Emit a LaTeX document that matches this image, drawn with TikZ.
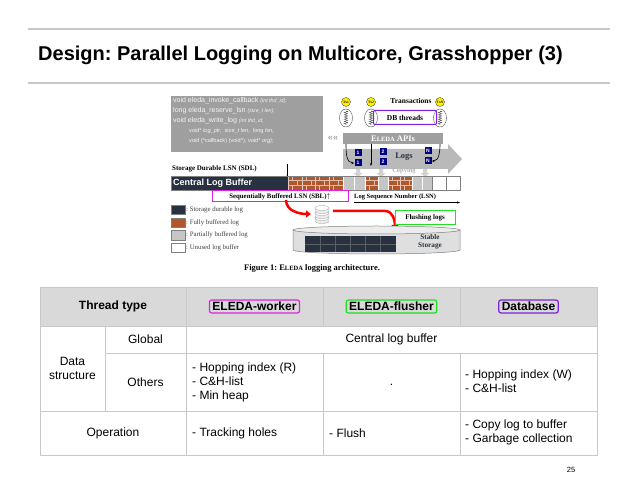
\documentclass[tikz,border=0pt]{standalone}
\usepackage{fontspec}
\setmainfont{Liberation Sans}
\newfontfamily\serif{Liberation Serif}
\usetikzlibrary{decorations.pathmorphing,arrows.meta,shapes.geometric}
\definecolor{navy}{HTML}{27313F}
\definecolor{brick}{HTML}{B0582C}
\definecolor{hdr}{HTML}{D9D9D9}
\definecolor{grid}{HTML}{C8C8C8}
\definecolor{magb}{HTML}{E020E0}
\definecolor{grnb}{HTML}{20E020}
\definecolor{purb}{HTML}{8020E0}
\frenchspacing
\tikzset{
  tt/.style={font=\fontsize{12}{14}\selectfont,inner sep=0pt,align=left},
  ttc/.style={font=\fontsize{12}{14}\selectfont,inner sep=0pt,align=center},
  hb/.style={font=\bfseries\fontsize{12}{14}\selectfont,draw,line width=1.2pt,rounded corners=2pt,inner xsep=3pt,inner ysep=2pt},
  brk/.style={fill=brick,draw=white!70!brick,line width=0.3pt},
  cel/.style={fill=gray!45,draw=white,line width=0.6pt},
  blue sq/.style={fill=blue!50!black,text=white,font=\bfseries\fontsize{5}{5}\selectfont,minimum size=7pt,inner sep=0pt},
  txc/.style={circle,fill=yellow,draw=black!70,line width=0.4pt,minimum size=9pt,inner sep=0pt,font=\serif\bfseries\fontsize{3.5}{4}\selectfont},
}
\begin{document}
\begin{tikzpicture}[x=1pt,y=-1pt]
\useasboundingbox (0,0) rectangle (638,478);
% title
\draw[grid,line width=2pt] (28,29) -- (610,29);
\draw[grid,line width=2pt] (28,83) -- (610,83);
\node[anchor=west,inner sep=0pt,font=\bfseries\fontsize{20}{22}\selectfont] (title) at (38,55) {Design: Parallel Logging on Multicore, Grasshopper (3)};

% ---------- figure ----------
\fill[gray!75] (171,96) rectangle (323,152);
\node[anchor=north west,inner sep=0pt,text=white!92!gray,font=\fontsize{7}{10}\selectfont,align=left] (code) at (173,97)
{void eleda\_invoke\_callback {\fontsize{5.3}{6}\selectfont\itshape(int thd\_id);}\\
long eleda\_reserve\_lsn {\fontsize{5.3}{6}\selectfont\itshape(size\_t len);}\\
void eleda\_write\_log {\fontsize{5.3}{6}\selectfont\itshape(int thd\_id,}\\
\hspace*{16pt}{\fontsize{5.6}{6}\selectfont void* \itshape log\_ptr,\ \ \upshape size\_t \itshape len,\ \ \upshape long \itshape lsn,}\\
\hspace*{16pt}{\fontsize{5.6}{6}\selectfont void (*callback) (void*), void* \itshape org);}};
\node[text=gray!70,font=\bfseries\fontsize{9}{9}\selectfont,inner sep=0pt] (chev) at (333,138) {\guillemotleft\guillemotleft};

% transactions
\foreach \n/\x/\l in {t1/346/Tx1,t2/371/Tx2,tn/440/TxN}{
  \node[txc] (\n) at (\x,102) {\l};
  \draw[black!70,line width=0.4pt,fill=white] (\x,118) ellipse (6.5pt and 9pt);
  \draw[black!70,line width=0.4pt,decorate,decoration={zigzag,segment length=2.2pt,amplitude=1.8pt}] (\x,111) -- (\x,125);
}
\node[font=\serif\bfseries\fontsize{7.5}{8}\selectfont,inner sep=0pt] (trans) at (411,101) {Transactions};
\node[draw=purb,line width=1pt,rounded corners=1pt,minimum width=63pt,minimum height=14pt,inner sep=0pt,font=\serif\bfseries\fontsize{7.5}{8}\selectfont] (dbt) at (405,117.5) {DB threads};

% APIs
\node[fill=gray!75,minimum width=100pt,minimum height=11pt,inner sep=0pt,text=white,font=\serif\bfseries\fontsize{8.5}{8}\selectfont] (api) at (393,138.5) {E{\fontsize{6.5}{6}\selectfont LEDA} APIs};
% logs arrow
\fill[gray!55] (343,149) -- (448,149) -- (448,144) -- (462,159) -- (448,174) -- (448,169) -- (343,169) -- cycle;
\node[font=\serif\bfseries\fontsize{8.5}{8}\selectfont,text=navy,inner sep=0pt] (logs) at (404,157) {Logs};
\node[blue sq] (b1a) at (358,153) {1};
\node[blue sq] (b1b) at (358,163) {1};
\node[blue sq] (b2a) at (383,152) {2};
\node[blue sq] (b2b) at (383,162) {2};
\node[blue sq] (bna) at (428,151) {N};
\node[blue sq] (bnb) at (428,161) {N};
\draw[-{Stealth[length=3pt]},line width=0.6pt] (346,144) to[out=-90,in=180] (b1b.west);
\draw[-{Stealth[length=3pt]},line width=0.6pt] (371,144) -- (371,166);
\draw[-{Stealth[length=3pt]},line width=0.6pt] (440,144) to[out=-90,in=0] (bnb.east);
% copying arrows
\foreach \x in {358,381,425}{
  \fill[gray!35] (\x-2,169) rectangle (\x+2,173) (\x-4.5,173) -- (\x+4.5,173) -- (\x,177) -- cycle;
}
\node[font=\serif\bfseries\fontsize{6.5}{6}\selectfont,text=gray!60,inner sep=0pt] (copy) at (404,171) {Copying};

% SDL
\node[anchor=west,font=\serif\bfseries\fontsize{7}{7}\selectfont,inner sep=0pt] (sdl) at (172,169) {Storage Durable LSN (SDL)};
\draw[-{Stealth[length=2.5pt]},line width=0.6pt] (287,164) -- (287,178);

% central log buffer
\fill[navy] (171,176) rectangle (288,190);
\node[anchor=west,text=white,font=\bfseries\fontsize{9}{9}\selectfont,inner sep=0pt] (clb) at (173,183) {Central Log Buffer};
\foreach \a/\b in {288/302,302/315,315/329,329/343,365/378,388/400,400/412}{
  \fill[brk] (\a,176) rectangle (\b,190);
  \draw[white!60!brick,line width=0.3pt] (\a,180.5)--(\b,180.5) (\a,185)--(\b,185) (\a+4,176)--(\a+4,180.5) (\a+9,180.5)--(\a+9,185) (\a+4,185)--(\a+4,190);
}
\foreach \a/\b in {343/354,354/365,378/388,412/422,422/432}{ \fill[cel] (\a,176) rectangle (\b,190); }
\draw[gray,line width=0.4pt] (432,176) rectangle (446,190) (446,176) rectangle (460,190);
\draw[gray,line width=0.4pt] (171,176) rectangle (460,190);

% SBL
\node[draw=magb,line width=1pt,minimum width=136pt,minimum height=11pt,inner sep=0pt,font=\serif\bfseries\fontsize{6.8}{7}\selectfont] (sbl) at (280,196.5) {Sequentially Buffered LSN (SBL)$\uparrow$};
\node[anchor=west,font=\serif\bfseries\fontsize{6.5}{7}\selectfont,inner sep=0pt] (lsn) at (354,197) {Log Sequence Number (LSN)};
\draw[-{Stealth[length=3pt]},line width=0.6pt] (354,202.5) -- (460,202.5);

% legend
\draw[gray,fill=navy] (171,205) rectangle (185,214);
\draw[gray,fill=brick] (171,218) rectangle (185,227);
\draw[gray,fill=gray!45] (171,230) rectangle (185,240);
\draw[gray,fill=white] (171,243) rectangle (185,252);
\foreach \y/\t in {209.5/Storage durable log,222.5/Fully buffered log,235/Partially buffered log,247.5/Unused log buffer}{
  \node[anchor=west,font=\serif\fontsize{6.8}{7}\selectfont,text=gray!50!black,inner sep=0pt] at (186,\y) {: \t};
}

% disk icon
\foreach \y in {218,213,208}{
  \draw[gray!60,fill=gray!15] (315,\y) -- (315,\y+3) arc[start angle=180,end angle=360,x radius=7pt,y radius=2.5pt] -- (329,\y) ;
  \draw[gray!60,fill=white] (322,\y) ellipse (7pt and 2.5pt);
}
% red arrows
\draw[red,line width=2.5pt,-{Triangle[length=5pt,width=7pt]}] (286,200) to[out=-90,in=180] (311,214);
\draw[red,line width=2.5pt,-{Triangle[length=5pt,width=7pt]}] (333,211) -- (385,211) to[out=0,in=90] (395,230);

% flushing
\node[draw=grnb,line width=1pt,minimum width=60pt,minimum height=14pt,inner sep=0pt,font=\serif\bfseries\fontsize{7}{7}\selectfont] (flush) at (425,218) {Flushing logs};

% stable storage
\draw[gray,line width=0.5pt,fill=gray!25] (293,230) -- (293,250) arc[start angle=180,end angle=360,x radius=83.5pt,y radius=4pt] -- (460,230);
\draw[gray,line width=0.5pt,fill=gray!15] (376.5,230) ellipse (83.5pt and 4pt);
\fill[navy] (305,236) rectangle (396,252);
\foreach \x in {320,335,350,365,380}{\draw[gray!60!navy,line width=0.3pt] (\x,236)--(\x,252);}
\draw[gray!60!navy,line width=0.3pt] (305,244)--(396,244);
\node[font=\serif\bfseries\fontsize{7.2}{8.5}\selectfont,text=navy,align=center,inner sep=0pt] (stab) at (430,242) {Stable\\Storage};

% caption
\node[font=\serif\bfseries\fontsize{8.5}{9}\selectfont,inner sep=0pt] (cap) at (312,268) {Figure 1: E{\fontsize{6.5}{6}\selectfont LEDA} logging architecture.};

% ---------- table ----------
\fill[hdr] (40,287) rectangle (597,326);
\draw[grid,line width=0.8pt] (40,287) rectangle (597,455);
\draw[grid,line width=0.8pt] (40,326) -- (597,326) (105,353) -- (597,353) (40,411) -- (597,411);
\draw[grid,line width=0.8pt] (186,287) -- (186,455) (323,287) -- (323,326) (323,353) -- (323,455) (460,287) -- (460,326) (460,353) -- (460,455);
\draw[grid,line width=0.8pt] (105,326) -- (105,411);

\node[font=\bfseries\fontsize{12}{14}\selectfont,inner sep=0pt] (th) at (113,306.5) {Thread type};
\node[hb,draw=magb] (hw) at (254.5,306.5) {ELEDA-worker};
\node[hb,draw=grnb] (hf) at (391.5,306.5) {ELEDA-flusher};
\node[hb,draw=purb] (hd) at (528.5,306.5) {Database};

\node[ttc] (ds) at (72.5,368.5) {Data\\structure};
\node[ttc] (gl) at (145.5,339.5) {Global};
\node[ttc] (ot) at (145.5,382) {Others};
\node[ttc] (clbt) at (391.5,339.5) {Central log buffer};
\node[tt,anchor=west] (wo) at (192,382) {- Hopping index (R)\\- C\&H-list\\- Min heap};
\node[ttc] (dot) at (391.5,385) {.};
\node[tt,anchor=west] (dbo) at (465,381) {- Hopping index (W)\\- C\&H-list};
\node[ttc] (op) at (113,433) {Operation};
\node[tt,anchor=west] (wop) at (192,433) {- Tracking holes};
\node[tt,anchor=west] (fop) at (329,433) {- Flush};
\node[tt,anchor=west] (dop) at (465,432) {- Copy log to buffer\\- Garbage collection};

\node[font=\fontsize{7.5}{8}\selectfont,inner sep=0pt] (pg) at (571,470) {25};
\end{tikzpicture}
\end{document}
